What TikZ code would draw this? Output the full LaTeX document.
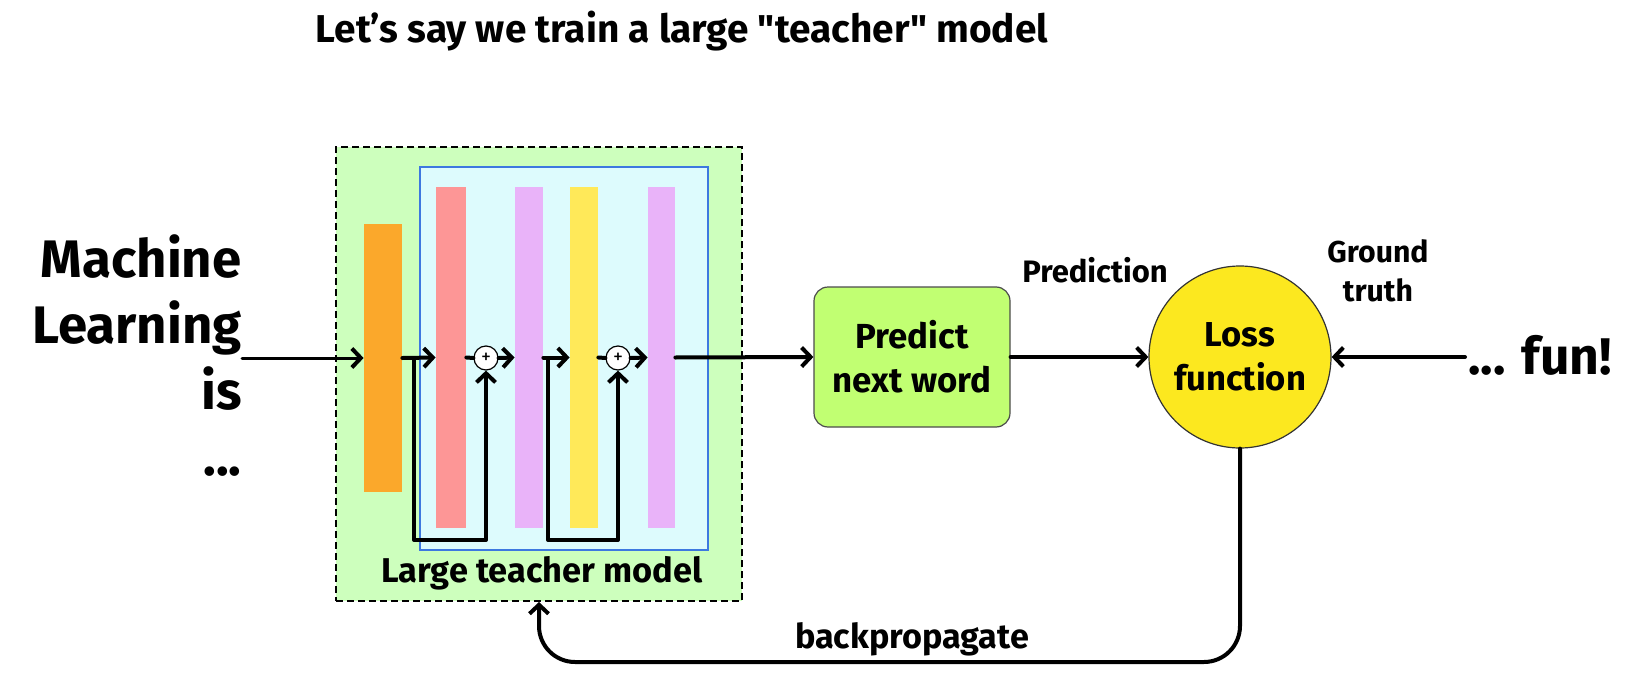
\documentclass[tikz,border=0pt]{standalone}
\usepackage{fontspec}
\setmainfont{Fira Sans}
\newfontfamily\plainquotes{Fira Sans}
\usetikzlibrary{arrows.meta,calc}
\definecolor{outerfill}{HTML}{CDFFBD}
\definecolor{innerfill}{HTML}{DDFBFD}
\definecolor{innerline}{HTML}{3D78E0}
\definecolor{orangebar}{HTML}{FBA82B}
\definecolor{salmonbar}{HTML}{FD9696}
\definecolor{lavbar}{HTML}{E9B3F9}
\definecolor{yelbar}{HTML}{FFE959}
\definecolor{predfill}{HTML}{C1FF72}
\definecolor{lossfill}{HTML}{FCE81F}
\begin{document}
\begin{tikzpicture}[x=0.5pt,y=-0.5pt,
  bar/.style={rectangle, inner sep=0pt, draw=none, minimum height=170.5pt},
  conn/.style={line width=2pt, line cap=round, line join=round,
    -{Straight Barb[length=4.5pt,width=9.5pt,line width=2pt]}},
  plain/.style={line width=2pt, line cap=round, line join=round},
  plus/.style={circle, draw, fill=white, line width=0.6pt, minimum size=12pt, inner sep=0pt, font=\fontsize{10}{10}\selectfont},
  lbl/.style={inner sep=0pt},
]
\useasboundingbox (0,0) rectangle (1651,680);

% containers
\node[draw, dashed, dash pattern=on 3.5pt off 2pt, line width=1pt, fill=outerfill,
  minimum width=203pt, minimum height=227pt, inner sep=0pt] (outer) at (539,374) {};
\node[draw=innerline, line width=0.6pt, fill=innerfill,
  minimum width=144pt, minimum height=191.5pt, inner sep=0pt] (inner) at (564,358.5) {};

% bars
\node[bar, fill=orangebar, minimum width=19pt, minimum height=134pt] (orange) at (383,358) {};
\node[bar, fill=salmonbar, minimum width=15pt] (red) at (451,357.5) {};
\node[bar, fill=lavbar, minimum width=14pt] (pinkA) at (529,357.5) {};
\node[bar, fill=yelbar, minimum width=14pt] (yellow) at (584,357.5) {};
\node[bar, fill=lavbar, minimum width=13.5pt] (pinkB) at (661.5,357.5) {};

% adders
\node[plus] (p1) at (486,358) {+};
\node[plus] (p2) at (618,358) {+};

% texts
\node[lbl, font=\plainquotes\bfseries\fontsize{19.4}{19.4}\selectfont, anchor=base] (title) at (682,42) {Let’s say we train a large "teacher" model};
\node[lbl, font=\bfseries\fontsize{17.2}{17.2}\selectfont, anchor=base] (ltm) at (542,582) {Large teacher model};
\node[align=right, anchor=east, inner sep=0pt, font=\bfseries\fontsize{26.4}{33}\selectfont] (intext) at (242,356) {Machine\\Learning\\is\\...};
\node[anchor=base west, inner sep=1.5pt, font=\bfseries\fontsize{25.8}{25.8}\selectfont] (fun) at (1465,374) {... fun!};

\node[draw=black!70, line width=0.6pt, fill=predfill, rounded corners=7pt,
  minimum width=98pt, minimum height=70pt, align=center,
  font=\bfseries\fontsize{17.4}{22}\selectfont] (predict) at (912,357) {Predict\\next word};
\node[circle, draw=black!80, line width=0.6pt, fill=lossfill, minimum size=91pt, inner sep=0pt, align=center,
  font=\bfseries\fontsize{17.3}{22}\selectfont] (loss) at (1240,357) {Loss\\function};

\node[lbl, anchor=base, font=\bfseries\fontsize{15.5}{15.5}\selectfont] (predlbl) at (1095,282) {Prediction};
\node[lbl, align=center, font=\bfseries\fontsize{15.1}{19.5}\selectfont] (gt) at (1378,271) {Ground\\truth};
\node[lbl, anchor=base, font=\bfseries\fontsize{17.1}{17.1}\selectfont] (bp) at (912,648) {backpropagate};

% coordinates
\coordinate (j1) at (414,358);
\coordinate (s1) at (414,540);
\coordinate (j2) at (548,358);
\coordinate (s2) at (548,540);
\coordinate (bot) at (0,662);

% connectors
\draw[conn, line width=1.5pt] (intext.east |- orange) -- (orange.west);
\draw[conn] (orange.east) -- (red.west);
\draw[plain] (red.east) -- (p1.west);
\draw[conn] (p1.east) -- (pinkA.west);
\draw[conn] (pinkA.east) -- (yellow.west);
\draw[plain] (yellow.east) -- (p2.west);
\draw[conn] (p2.east) -- (pinkB.west);
\draw[conn] (j1) -- (s1) -| (p1.south);
\draw[conn] (j2) -- (s2) -| (p2.south);
\draw[conn] (pinkB.east) -- (predict.west);
\draw[conn] (predict.east) -- (loss.west);
\draw[conn] (fun.west |- loss) -- (loss.east);
\draw[conn, rounded corners=18pt] (loss.south) -- (loss.south |- bot) -- (outer.south |- bot) -- (outer.south);
\end{tikzpicture}
\end{document}
